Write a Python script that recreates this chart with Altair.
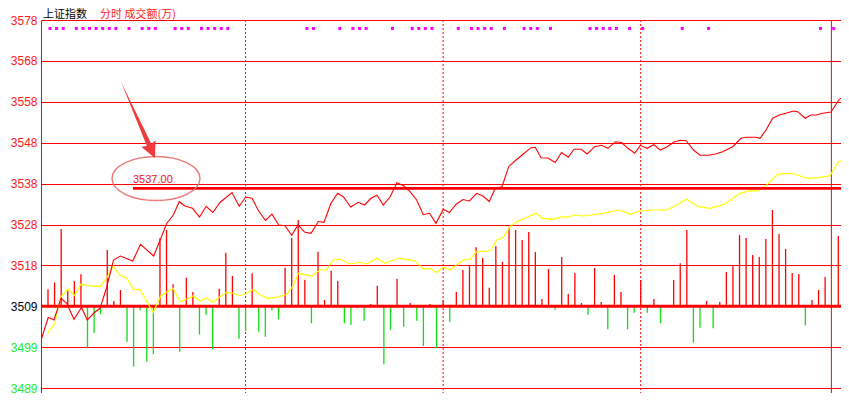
import altair as alt
import pandas as pd

# ---------------- data ----------------
prev_close = 3508.6
tick_values = [3577.55, 3567.7, 3557.85, 3548.0, 3538.15, 3528.3, 3518.45, 3508.6, 3498.75, 3488.9]
y_domain = [3487.72, 3577.55]
x_domain = [-2.126, 240.82]

price_minutes = [-2.03, 0.06, 1.21, 1.82, 3.95, 5.68, 7.90, 10.17, 11.93, 14.18, 15.79, 17.76, 19.89, 21.96, 25.75,
                 28.09, 32.10, 34.31, 35.99, 38.05, 39.87, 41.60, 43.88, 46.01, 48.04, 50.05, 52.23, 55.88, 58.06,
                 60.04, 61.95, 63.98, 66.05, 68.02, 70.06, 71.97, 74.01, 75.92, 77.89, 79.87, 82.08, 83.81, 85.94,
                 87.97, 89.68, 91.92, 94.23, 96.17, 98.09, 99.91, 101.82, 103.86, 105.98, 108.11, 109.93, 111.96,
                 113.97, 115.88, 117.82, 120.04, 121.87, 124.05, 126.02, 128.0, 130.18, 132.1, 134.0, 135.83,
                 137.87, 139.9, 142.12, 144.64, 146.68, 147.98, 149.71, 151.84, 154.05, 155.94, 158.0, 159.73,
                 161.95, 163.68, 166.02, 168.08, 170.06, 172.27, 174.16, 176.13, 178.17, 179.87, 181.9, 183.94,
                 185.94, 187.97, 190.1, 192.01, 193.84, 196.02, 198.0, 200.73, 202.7, 204.89, 207.93, 210.45,
                 211.96, 215.0, 216.22, 218.04, 220.07, 222.08, 224.11, 226.33, 227.66, 229.97, 231.7, 233.22,
                 235.25, 237.78, 240.30, 241.82, 243.15]
price_values = [3500.65, 3505.90, 3505.54, 3505.30, 3510.53, 3509.32, 3505.47, 3508.31, 3505.30, 3507.16, 3508.12,
                3513.01, 3519.75, 3520.71, 3519.51, 3523.53, 3520.71, 3525.05, 3528.49, 3530.59, 3533.79, 3532.75,
                3532.20, 3530.11, 3532.68, 3531.19, 3533.60, 3536.01, 3532.68, 3534.92, 3534.61, 3531.55, 3529.26,
                3530.78, 3528.18, 3528.01, 3525.70, 3528.18, 3526.49, 3526.18, 3529.02, 3528.83, 3533.41, 3535.81,
                3535.00, 3532.51, 3533.65, 3533.00, 3534.61, 3535.33, 3533.00, 3534.92, 3538.37, 3537.57, 3536.20,
                3534.20, 3530.66, 3531.00, 3528.59, 3531.96, 3531.19, 3533.24, 3534.32, 3533.96, 3535.81, 3535.16,
                3533.84, 3537.02, 3537.40, 3542.22, 3543.83, 3545.45, 3546.80, 3546.89, 3544.39, 3544.31, 3543.23,
                3545.64, 3544.48, 3546.41, 3546.41, 3545.28, 3547.04, 3547.37, 3546.65, 3548.24, 3548.05, 3546.65,
                3545.45, 3547.37, 3546.65, 3547.52, 3546.24, 3546.96, 3548.17, 3548.58, 3548.48, 3546.24, 3544.97,
                3544.97, 3545.28, 3545.83, 3547.04, 3549.06, 3549.30, 3549.30, 3549.06, 3551.06, 3553.88, 3554.67,
                3555.08, 3555.63, 3555.47, 3553.88, 3554.67, 3554.67, 3555.08, 3555.39, 3558.45, 3559.08, 3558.04]

avg_minutes = [0, 2.03, 3.86, 6.07, 8.05, 10.02, 12.15, 15.79, 18.0, 19.8, 21.77, 23.99, 26.02, 27.85, 30.06,
               31.95, 34.22, 36.44, 38.02, 40.08, 42.12, 44.12, 46.16, 48.19, 50.2, 52.23, 54.27, 56.27, 58.31,
               60.34, 62.34, 64.38, 66.9, 69.45, 72.49, 74.31, 76.01, 80.08, 82.6, 84.42, 86.64, 88.67, 91.71,
               94.23, 96.78, 100.0, 102.34, 106.38, 108.93, 111.45, 113.97, 116.0, 118.04, 120.04, 122.08, 126.12,
               128.15, 130.18, 134.22, 136.26, 138.26, 140.30, 142.33, 146.37, 148.19, 150.23, 153.45, 156.0,
               157.52, 160.04, 162.56, 168.63, 171.67, 173.7, 176.74, 179.78, 183.82, 187.88, 190.92, 193.96,
               197.48, 201.03, 205.59, 210.14, 213.18, 215.70, 218.25, 221.29, 223.29, 226.85, 230.4, 234.44,
               237.47, 240.0, 241.52, 243.03]
avg_values = [3502.17, 3504.51, 3510.84, 3512.77, 3511.20, 3513.97, 3513.56, 3513.32, 3515.66, 3518.31, 3516.14,
              3515.30, 3512.70, 3512.70, 3509.64, 3507.11, 3511.08, 3512.17, 3512.94, 3509.71, 3510.29, 3511.08,
              3509.88, 3510.53, 3509.56, 3510.91, 3511.97, 3511.73, 3511.15, 3511.73, 3512.70, 3511.32, 3510.53,
              3510.77, 3511.49, 3513.32, 3516.55, 3515.90, 3517.34, 3517.34, 3519.75, 3519.92, 3518.79, 3519.20,
              3518.79, 3520.16, 3518.96, 3520.16, 3519.92, 3519.51, 3517.58, 3517.75, 3516.69, 3518.07, 3517.34,
              3519.75, 3519.92, 3521.75, 3521.92, 3524.57, 3525.22, 3527.77, 3528.97, 3530.35, 3531.0, 3529.79,
              3529.55, 3530.18, 3530.03, 3530.59, 3530.35, 3531.0, 3531.55, 3531.79, 3530.76, 3531.55, 3531.79,
              3531.79, 3532.99, 3534.37, 3532.59, 3532.20, 3533.24, 3535.81, 3536.44, 3536.37, 3537.81, 3540.22,
              3540.63, 3540.46, 3539.43, 3539.57, 3540.05, 3543.42, 3543.83, 3543.18]

# one bar every 2 minutes, signed distance from the previous close
bar_deltas = [4.09, 5.78, 18.61, 3.76, 6.09, 7.73, -10.11, -6.36, -1.93, 13.56, 1.28, 3.93, -8.52, -14.55, -0.96,
              -13.34, -11.56, 16.37, 18.37, 5.32, -10.93, 6.86, 3.44, -6.79, -2.05, -10.35, 4.21, 12.91, 7.30,
              -7.80, -5.95, 7.97, -6.12, -7.32, -0.96, -3.13, 9.30, 16.45, 20.78, 6.41, -4.09, 13.15, 1.52, 8.57,
              6.09, -4.09, -4.50, -0.48, -3.47, 0.55, 4.94, -13.97, -5.64, 6.62, -4.91, 0.79, -3.47, -9.56, 0.55,
              -10.11, 1.28, -3.71, 3.44, 8.74, 9.78, 14.21, 11.63, 4.48, 14.52, 10.67, 19.02, 18.37, 15.97, 17.89,
              13.08, 1.76, 8.98, -0.82, 11.87, 2.96, 8.02, 0.79, -2.05, 9.22, 1.04, -5.54, 7.54, 3.44, -5.54,
              -1.54, 6.33, -1.54, 1.76, -4.09, 0.31, 6.33, 10.35, 18.37, -8.76, -5.15, 1.28, -5.30, 1.04, 8.26,
              9.78, 17.17, 16.45, 12.35, 11.87, 16.21, 23.19, 17.41, 13.80, 8.02, 7.78, -4.62, 1.52, 3.93, 7.06,
              0.0, 16.93, 13.32]

dot_slots = [0, 1, 2, 4, 5, 6, 7, 8, 9, 10, 12, 14, 15, 16, 19, 20, 21, 23, 24, 25, 26, 27, 39, 40, 44, 46, 47,
             48, 52, 55, 56, 57, 58, 62, 64, 65, 66, 67, 69, 72, 73, 74, 76, 82, 83, 84, 85, 86, 88, 90, 96, 100,
             117, 119]
dot_level = 3575.5

session_lines = [60, 120, 180]
cursor_minute = 237.9

marker_value = 3537.0
marker_start = 25.81
marker_label = "3537.00"
ellipse_center = (32.8, 3539.38)
arrow_center = (27.33, 3553.47)

title_left = "上证指数"
title_right = "分时 成交额(万)"

# ---------------- styles ----------------
RED = "#ff0000"
GREEN = "#11dd11"

xs = alt.Scale(domain=x_domain, nice=False, zero=False)
ys = alt.Scale(domain=y_domain, nice=False, zero=False)
X = alt.X("m:Q", scale=xs, axis=None)
yaxis = alt.Axis(
    values=tick_values, format=".0f", title=None, ticks=False, grid=True,
    gridColor=RED, gridWidth=1, gridOpacity=1, domain=True, domainColor=RED, domainWidth=1,
    labelFont="Liberation Sans", labelFontSize=12, labelPadding=4,
    labelColor={"condition": [{"test": "datum.value > 3510", "value": "#ff1a1a"},
                              {"test": "datum.value < 3507", "value": "#22ee22"}],
                "value": "#000010"},
)
Y = alt.Y("p:Q", scale=ys, axis=yaxis)

price_df = pd.DataFrame({"m": price_minutes, "p": price_values})
avg_df = pd.DataFrame({"m": avg_minutes, "p": avg_values})
bars_df = pd.DataFrame({"m": [2 * k for k in range(len(bar_deltas))], "d": bar_deltas})
bars_df = bars_df[bars_df["d"] != 0]
bars_df["p"] = prev_close + bars_df["d"]
bars_df["p0"] = prev_close
bars_df["c"] = [RED if d > 0 else GREEN for d in bars_df["d"]]
dots_df = pd.DataFrame({"m": [2 * j + 0.6 for j in dot_slots], "p": dot_level})

grid_layer = alt.Chart(pd.DataFrame({"p": [prev_close]})).mark_rule(strokeOpacity=0).encode(y=Y)

sessions = alt.Chart(pd.DataFrame({"m": session_lines})).mark_rule(
    color=RED, strokeWidth=1, strokeDash=[2, 2]).encode(x=X)
cursor = alt.Chart(pd.DataFrame({"m": [cursor_minute]})).mark_rule(
    color=RED, strokeWidth=1).encode(x=X)

bars = alt.Chart(bars_df).mark_rule(strokeWidth=1.3, clip=True).encode(
    x=X, y=Y, y2=alt.Y2("p0"), color=alt.Color("c:N", scale=None))

base_line = alt.Chart(pd.DataFrame({"p": [prev_close]})).mark_rule(
    color=RED, strokeWidth=3).encode(y=Y)

avg_line = alt.Chart(avg_df).mark_line(color="#ffff00", strokeWidth=1.2, clip=True).encode(x=X, y=Y)
price_line = alt.Chart(price_df).mark_line(color=RED, strokeWidth=1.1, clip=True).encode(x=X, y=Y)

marker_df = pd.DataFrame({"m": [marker_start], "m2": [x_domain[1]], "p": [marker_value], "t": [marker_label]})
marker_line = alt.Chart(marker_df).mark_rule(color=RED, strokeWidth=2.6).encode(
    x=X, x2=alt.X2("m2"), y=Y)
marker_text = alt.Chart(marker_df).mark_text(
    align="left", baseline="alphabetic", dy=-5, font="Liberation Sans", fontSize=11, color="#ee1111"
).encode(x=X, y=Y, text="t:N")

ellipse_path = ("M 1 0 C 1 0.27614 0.55228 0.5 0 0.5 C -0.55228 0.5 -1 0.27614 -1 0 "
                "C -1 -0.27614 -0.55228 -0.5 0 -0.5 C 0.55228 -0.5 1 -0.27614 1 0 Z")
ellipse = alt.Chart(pd.DataFrame({"m": [ellipse_center[0]], "p": [ellipse_center[1]]})).mark_point(
    shape=ellipse_path, size=7744, filled=False, stroke="#ec7a7a", strokeWidth=1.4, opacity=1
).encode(x=X, y=Y)

arrow_path = "M 0 -1 L 0.06 0.66 L 0.19 0.62 L 0 1 L -0.19 0.62 L -0.06 0.66 Z"
arrow = alt.Chart(pd.DataFrame({"m": [arrow_center[0]], "p": [arrow_center[1]]})).mark_point(
    shape=arrow_path, size=6889, filled=True, fill="#f03c3c", strokeWidth=0, opacity=1, angle=336
).encode(x=X, y=Y)

dots = alt.Chart(dots_df).mark_square(size=9, color="#ff00ff", opacity=1).encode(x=X, y=Y)

title1 = alt.Chart(pd.DataFrame({"t": [title_left]})).mark_text(
    align="left", baseline="middle", font="Noto Sans CJK SC", fontSize=11, color="#000000"
).encode(x=alt.value(2), y=alt.value(-5), text="t:N")
title2 = alt.Chart(pd.DataFrame({"t": [title_right]})).mark_text(
    align="left", baseline="middle", font="Noto Sans CJK SC", fontSize=11, color="#ff1a1a"
).encode(x=alt.value(59), y=alt.value(-5), text="t:N")

chart = alt.layer(
    grid_layer, sessions, cursor, bars, base_line, avg_line, price_line,
    marker_line, marker_text, ellipse, arrow, dots, title1, title2
).properties(
    width=800, height=373,
    padding={"left": 33, "top": 12, "right": 0, "bottom": 0},
    autosize=alt.AutoSizeParams(type="none"),
    background="white",
).configure_view(stroke=None)

chart.save("out.html", embed_options={"renderer": "svg", "actions": False})
